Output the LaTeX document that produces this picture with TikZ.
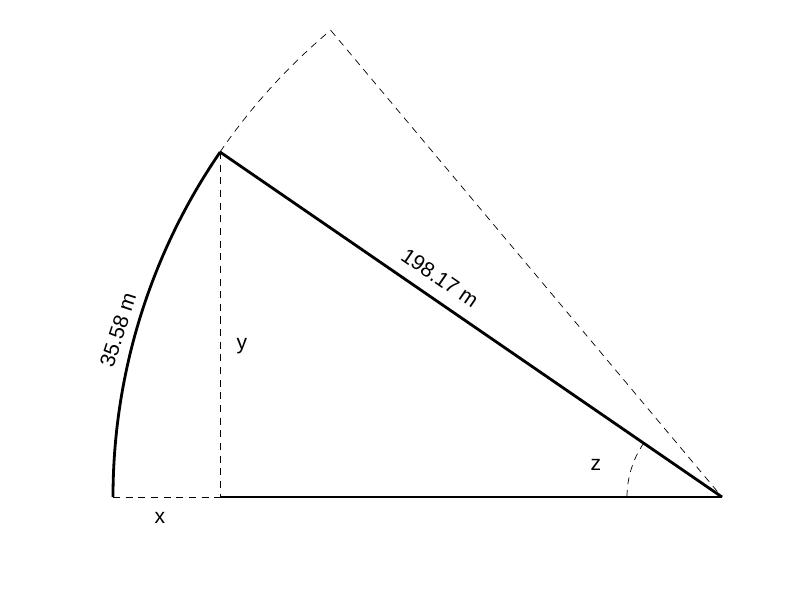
\documentclass[tikz,border=0pt]{standalone}
\usepackage{fontspec}
\setmainfont{Liberation Sans}
\usepackage{tikz}
\usetikzlibrary{positioning}
\tikzset{
  heavy/.style={line width=2pt},
  guide/.style={line width=0.5pt, dash pattern=on 5pt off 4pt},
  lbl/.style={font=\fontsize{15}{17}\selectfont, inner sep=1pt}
}

\begin{document}
\begin{tikzpicture}
      \useasboundingbox (0,0) rectangle (20,15);
      % points of the sector
      \coordinate (O) at (18.05, 2.575);
      \coordinate (A) at (2.825, 2.575);
      \coordinate (P) at (5.5, 11.2);
      \coordinate (T) at (8.27, 14.24);
      \coordinate (F) at (5.5, 2.575);
      \coordinate (Z) at (15.675, 2.575); % start of angle arc

      % solid sides
      \draw[heavy] (F) -- (O);
      \draw[heavy] (O) -- (P);
      \draw[heavy] (A) arc[start angle=180, end angle=145.5, radius=15.225];

      % dashed construction
      \draw[guide] (P) arc[start angle=145.5, end angle=130, radius=15.225];
      \draw[guide] (T) -- (O);
      \draw[guide] (P) -- (F);
      \draw[guide] (A) -- (F);
      \draw[guide] (Z) arc[start angle=180, end angle=145.5, radius=2.375];

      % labels
      \node[lbl] (hyp) at (11.0, 8.05) [rotate=-34.5] {198.17 m};
      \node[lbl] (len) at (2.95, 6.75) [rotate=72] {35.58 m};
      \node[lbl] (xl) at (4.0, 2.05) {x};
      \node[lbl] (yl) at (6.05, 6.35) {y};
      \node[lbl] (zl) at (14.9, 3.375) {z};
    \end{tikzpicture}
\end{document}
